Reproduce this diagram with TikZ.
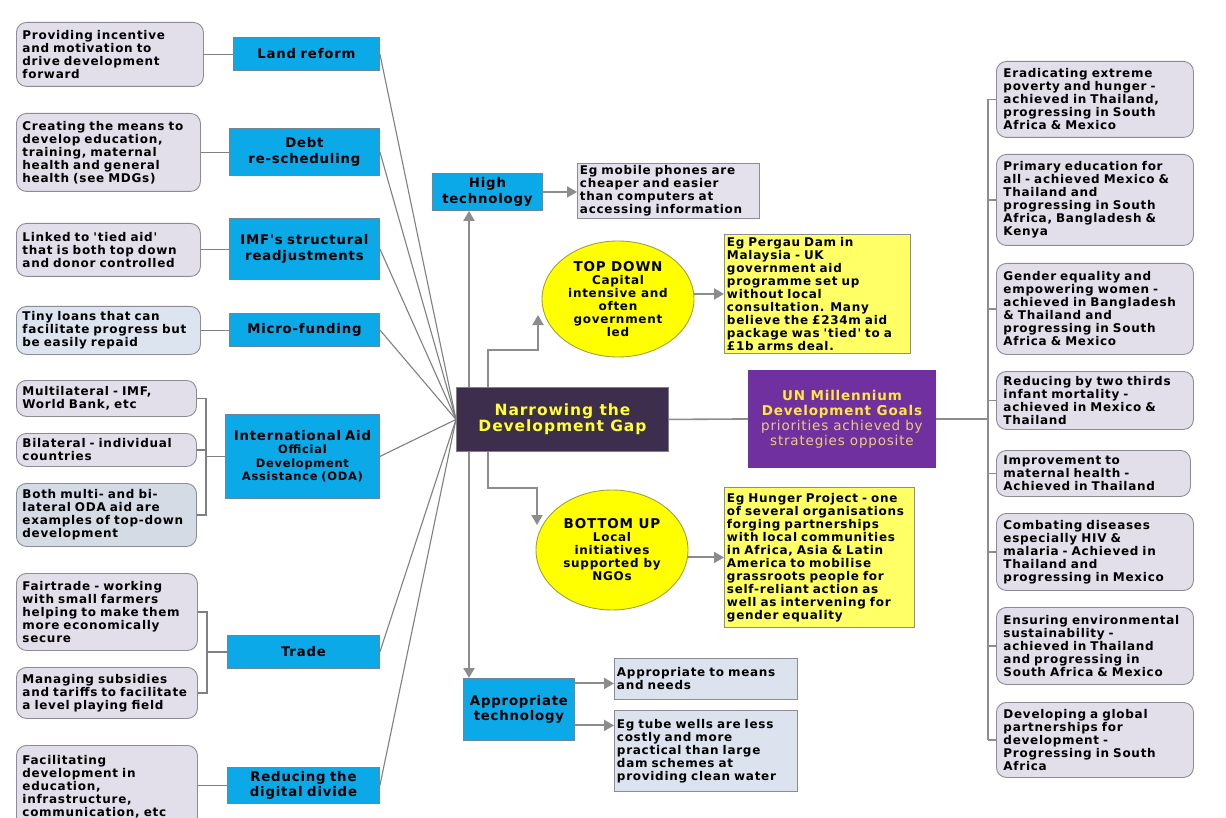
\documentclass[tikz,border=0pt]{standalone}
\usepackage{fontspec}
\setmainfont{DejaVu Sans}[Ligatures=TeXOff, LetterSpace=6]
\usetikzlibrary{arrows.meta,shapes.geometric,calc}
\definecolor{bluebx}{HTML}{0CA9E8}
\definecolor{bluedraw}{HTML}{6A8799}
\definecolor{notefill}{HTML}{E2DFEA}
\definecolor{notelb}{HTML}{DCE4EF}
\definecolor{noteblue}{HTML}{D4DBE5}
\definecolor{notedraw}{HTML}{8C8C96}
\definecolor{ctrfill}{HTML}{3C2E4C}
\definecolor{ctrtext}{HTML}{FFFF33}
\definecolor{mdgfill}{HTML}{7030A0}
\definecolor{mdgtext}{HTML}{FFE640}
\definecolor{mdgsub}{HTML}{EECC77}
\definecolor{ellfill}{HTML}{FFFF00}
\definecolor{elldraw}{HTML}{A0A040}
\definecolor{pgfillc}{HTML}{FFFF66}
\definecolor{lavbox}{HTML}{E4E1EC}
\definecolor{lbbox}{HTML}{DCE3EE}
\definecolor{linegray}{HTML}{808080}
\definecolor{arrgray}{HTML}{8C8C8C}
\begin{document}
\begin{tikzpicture}[x=1pt,y=-1pt,
  base/.style={anchor=north west, inner ysep=0pt, line width=0.9pt, text=black},
  note/.style={base, draw=notedraw, fill=notefill, rounded corners=10pt, align=left, inner xsep=6pt, font=\bfseries\fontsize{12}{13}\selectfont},
  rnote/.style={note, inner xsep=7pt},
  sqnote/.style={base, draw=notedraw, fill=lavbox, align=left, inner xsep=2.5pt, font=\bfseries\fontsize{12}{13}\selectfont},
  bluebox/.style={base, draw=bluedraw, fill=bluebx, align=center, inner xsep=2pt, font=\bfseries\fontsize{13.3}{15.5}\selectfont},
  ell/.style={ellipse, draw=elldraw, fill=ellfill, line width=0.9pt, align=center, inner sep=0pt, font=\bfseries\fontsize{12}{13}\selectfont},
  conn/.style={draw=linegray, line width=1.1pt},
  mline/.style={draw=arrgray, line width=1.6pt},
  arr/.style={draw=arrgray, line width=2pt, -{Triangle[length=10pt,width=11pt]}}
]
\fill[white] (0,0) rectangle (1226,818);
\useasboundingbox (0,0) rectangle (1226,818);

% ---------- left notes ----------
\node[note, minimum height=64pt, text width=175pt] (n1) at (16,22) {Providing incentive\\and motivation to\\drive development\\forward};
\node[note, minimum height=78pt, text width=172pt] (n2) at (16,113) {Creating the means to\\develop education,\\training, maternal\\health and general\\health (see MDGs)};
\node[note, minimum height=53pt, text width=172pt] (n3) at (16,223) {Linked to 'tied aid'\\that is both top down\\and donor controlled};
\node[note, fill=notelb, minimum height=48pt, text width=172pt] (n4) at (16,306) {Tiny loans that can\\facilitate progress but\\be easily repaid};
\node[note, minimum height=36pt, text width=168pt] (n5) at (16,380) {Multilateral - IMF,\\World Bank, etc};
\node[note, minimum height=33pt, text width=168pt] (n6) at (16,433) {Bilateral - individual\\countries};
\node[note, fill=noteblue, minimum height=63pt, text width=168pt] (n7) at (16,483) {Both multi- and bi-\\lateral ODA aid are\\examples of top-down\\development};
\node[note, minimum height=77pt, text width=169pt] (n8) at (16,573) {Fairtrade - working\\with small farmers\\helping to make them\\more economically\\secure};
\node[note, minimum height=51pt, text width=169pt] (n9) at (16,667) {Managing subsidies\\and tariffs to facilitate\\a level playing field};
\node[note, minimum height=82pt, text width=169pt] (n10) at (16,745) {Facilitating\\development in\\education,\\infrastructure,\\communication, etc};

% ---------- left blue boxes ----------
\node[bluebox, minimum height=33pt, text width=142pt] (b1) at (233,37) {Land reform};
\node[bluebox, minimum height=47pt, text width=146pt] (b2) at (229,128) {Debt\\re-scheduling};
\node[bluebox, minimum height=61pt, text width=146pt] (b3) at (229,218) {IMF's structural\\readjustments};
\node[bluebox, minimum height=33pt, text width=146pt] (b4) at (229,313) {Micro-funding};
\node[bluebox, minimum height=84pt, text width=150pt, font=\bfseries\fontsize{11.5}{13.5}\selectfont] (b5) at (225,414) {{\fontsize{13.3}{14.5}\selectfont International Aid}\\Official\\Development\\Assistance (ODA)};
\node[bluebox, minimum height=33pt, text width=148pt] (b6) at (227,635) {Trade};
\node[bluebox, minimum height=36pt, text width=148pt] (b7) at (227,767) {Reducing the\\digital divide};

% brackets on the left
\coordinate (lbA) at (206,0);
\coordinate (lbT) at (207,0);
\draw[conn] (n1.east) -- (b1.west |- n1.east);
\draw[conn] (n2.east) -- (b2.west |- n2.east);
\draw[conn] (n3.east) -- (b3.west |- n3.east);
\draw[conn] (n4.east) -- (b4.west |- n4.east);
\draw[conn] (n5.east) -- (n5.east -| lbA) -- (n7.east -| lbA) -- (n7.east);
\draw[conn] (n6.east) -- (n6.east -| lbA);
\draw[conn] (b5.west) -- (b5.west -| lbA);
\draw[conn] (n8.east) -- (n8.east -| lbT) -- (n9.east -| lbT) -- (n9.east);
\draw[conn] (b6.west) -- (b6.west -| lbT);
\draw[conn] (n10.east |- b7.west) -- (b7.west);

% ---------- centre ----------
\node[base, draw=linegray, fill=ctrfill, text=ctrtext, align=center, minimum width=212pt, minimum height=64pt, inner xsep=0pt, font=\bfseries\fontsize{15.5}{16.5}\selectfont] (ctr) at (456,387) {Narrowing the\\Development Gap};

\foreach \b in {b1,b2,b3,b4,b5,b6,b7} {\draw[conn] (\b.east) -- (ctr.west);}

% ---------- high technology ----------
\node[bluebox, minimum height=37pt, text width=106pt] (ht) at (432,173) {High\\technology};
\node[sqnote, minimum height=55pt, text width=177pt] (mob) at (577,163) {Eg mobile phones are\\cheaper and easier\\than computers at\\accessing information};

% ---------- top down ----------
\node[ell, minimum width=152pt, minimum height=116pt] (td) at (618,299) {{\fontsize{13.5}{14}\selectfont TOP DOWN}\\Capital\\intensive and\\often\\government\\led};
\node[sqnote, fill=pgfillc, minimum height=119pt, text width=181pt] (pg) at (724,234) {Eg Pergau Dam in\\Malaysia - UK\\government aid\\programme set up\\without local\\consultation. Many\\believe the £234m aid\\package was 'tied' to a\\£1b arms deal.};

% ---------- MDG ----------
\node[base, draw=mdgfill, fill=mdgfill, align=center, minimum width=187pt, minimum height=97pt, inner xsep=0pt, font=\fontsize{13.5}{15}\selectfont] (mdg) at (748,370) {\textcolor{mdgtext}{\bfseries UN Millennium}\\\textcolor{mdgtext}{\bfseries Development Goals}\\\textcolor{mdgsub}{priorities achieved by}\\\textcolor{mdgsub}{strategies opposite}};

% ---------- bottom up ----------
\node[ell, minimum width=152pt, minimum height=120pt] (bu) at (612,550) {{\fontsize{13.5}{14}\selectfont BOTTOM UP}\\Local\\initiatives\\supported by\\NGOs};
\node[sqnote, fill=pgfillc, minimum height=140pt, text width=185pt] (hg) at (724,487) {Eg Hunger Project - one\\of several organisations\\forging partnerships\\with local communities\\in Africa, Asia \& Latin\\America to mobilise\\grassroots people for\\self-reliant action as\\well as intervening for\\gender equality};

% ---------- appropriate technology ----------
\node[bluebox, minimum height=62pt, text width=107pt] (at) at (463,678) {Appropriate\\technology};
\node[sqnote, fill=lbbox, minimum height=41pt, text width=178pt] (am) at (614,658) {Appropriate to means\\and needs};
\node[sqnote, fill=lbbox, minimum height=81pt, text width=178pt] (tw) at (614,710) {Eg tube wells are less\\costly and more\\practical than large\\dam schemes at\\providing clean water};

% ---------- right notes ----------
\node[rnote, minimum height=76pt, text width=183pt] (r1) at (996,61) {Eradicating extreme\\poverty and hunger -\\achieved in Thailand,\\progressing in South\\Africa \& Mexico};
\node[rnote, minimum height=91pt, text width=183pt] (r2) at (996,154) {Primary education for\\all - achieved Mexico \&\\Thailand and\\progressing in South\\Africa, Bangladesh \&\\Kenya};
\node[rnote, minimum height=91pt, text width=183pt] (r3) at (996,263) {Gender equality and\\empowering women -\\achieved in Bangladesh\\\& Thailand and\\progressing in South\\Africa \& Mexico};
\node[rnote, minimum height=58pt, text width=183pt] (r4) at (996,371) {Reducing by two thirds\\infant mortality -\\achieved in Mexico \&\\Thailand};
\node[rnote, minimum height=46pt, text width=180pt] (r5) at (996,450) {Improvement to\\maternal health -\\Achieved in Thailand};
\node[rnote, minimum height=77pt, text width=183pt] (r6) at (996,513) {Combating diseases\\especially HIV \&\\malaria - Achieved in\\Thailand and\\progressing in Mexico};
\node[rnote, minimum height=77pt, text width=183pt] (r7) at (996,607) {Ensuring environmental\\sustainability -\\achieved in Thailand\\and progressing in\\South Africa \& Mexico};
\node[rnote, minimum height=75pt, text width=183pt] (r8) at (996,702) {Developing a global\\partnerships for\\development -\\Progressing in South\\Africa};

\coordinate (rbx) at (988,0);
\draw[mline] (ctr.east) -- (mdg.west);
\draw[mline] (mdg.east) -- (mdg.east -| rbx);
\draw[mline] (r1.west -| rbx) -- (r8.west -| rbx);
\foreach \r in {r1,r2,r3,r4,r5,r6,r7,r8} {\draw[mline] (\r.west) -- (\r.west -| rbx);}

% ---------- arrows ----------
\coordinate (vx) at (469,0);
\coordinate (tdx) at (488,0);
\coordinate (tdturn) at (538,350);
\coordinate (tdtip) at (538,315);
\coordinate (buturn) at (537,488);
\coordinate (butip) at (537,525);
\draw[arr] (ctr.north -| vx) -- (ht.south -| vx);
\draw[arr] (ctr.south -| vx) -- (at.north -| vx);
\draw[arr] (ctr.north -| tdx) -- (tdx |- tdturn) -- (tdturn) -- (tdtip);
\draw[arr] (ctr.south -| tdx) -- (tdx |- buturn) -- (buturn) -- (butip);
\draw[arr] (ht.east) -- (ht.east -| mob.west);
\draw[arr] (pg.west -| td.east) -- (pg.west);
\draw[arr] (hg.west -| bu.east) -- (hg.west);
\draw[arr] ([yshift=26pt]at.east) -- ([yshift=26pt]at.east -| am.west);
\draw[arr] ([yshift=-16pt]at.east) -- ([yshift=-16pt]at.east -| tw.west);
\end{tikzpicture}
\end{document}
